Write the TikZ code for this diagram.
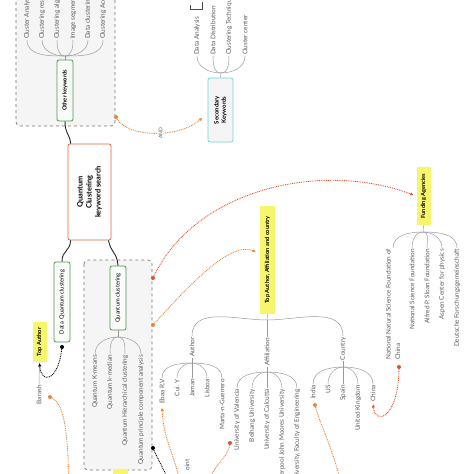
\documentclass[tikz,border=0pt]{standalone}
\usepackage{fontspec}
\setmainfont{Lato}
\usetikzlibrary{arrows.meta}

\definecolor{kgreen}{HTML}{4A9A4A}
\definecolor{kgreenfill}{HTML}{F9FCF9}
\definecolor{kteal}{HTML}{6AD8D0}
\definecolor{kboxfill}{HTML}{F5F5F5}
\definecolor{kcentral}{HTML}{E0673F}
\definecolor{kgroup}{HTML}{777777}
\definecolor{kyellow}{HTML}{F7F56C}
\definecolor{korange}{HTML}{E8843A}
\definecolor{kred}{HTML}{E05030}
\definecolor{ktwig}{HTML}{9A9A9A}
\definecolor{kleaf}{HTML}{595959}

\newcommand{\leaffont}{\fontsize{6.4}{9.5}\selectfont}
\newcommand{\tagfont}{\fontsize{5.7}{6.8}\selectfont}

\tikzset{
	leaf/.style={rotate=90, inner sep=1pt, font=\leaffont, text=kleaf},
	up/.style={leaf, anchor=west},
	down/.style={leaf, anchor=east},
	topic/.style={rotate=90, rounded corners=2pt, line width=0.8pt, inner sep=1pt, font=\tagfont},
	greenbox/.style={topic, draw=kgreen, fill=kgreenfill},
	tag/.style={topic, fill=kyellow, rounded corners=0pt, font=\bfseries\tagfont},
	group/.style={draw=kgroup, fill=kboxfill, dashed, line width=0.7pt, rounded corners=4pt},
	twig/.style={draw=ktwig, line width=0.5pt},
	trunk/.style={draw=black!85, line width=0.9pt},
	relation/.style={line width=0.9pt, dash pattern=on 0.9pt off 0.9pt},
	tip/.style={-{Triangle[length=3pt,width=3pt]}},
	dot/.style={circle, inner sep=0pt, minimum size=4pt}
}

\begin{document}
\begin{tikzpicture}[x=1pt, y=1pt]
	\useasboundingbox (0,0) rectangle (474,-474);

	\draw[group] (16,8) rectangle (115,-126);
	\draw[group] (84,-260) rectangle (152,-470);

	\node(cq) [topic, draw=kcentral, fill=white, minimum width=96pt, minimum height=43pt, align=center, font=\bfseries\fontsize{7.4}{9}\selectfont] at (89.5,-192) {Quantum\\Clustering\\keyword search};

	\node(okw) [greenbox, minimum width=61pt, minimum height=16pt, font=\bfseries\tagfont] at (65,-90.5) {Other keywords};
	\coordinate(okj) at (65,-56);
	\node(ok1) [up] at (27,-40) {Cluster Analysis};
	\node(ok2) [up] at (42,-40) {Clustering research};
	\node(ok3) [up] at (57,-40) {Clustering algorithm};
	\node(ok4) [up] at (73,-40) {Image segmentation};
	\node(ok5) [up] at (88,-40) {Data clustering};
	\node(ok6) [up] at (103,-40) {Clustering Accuracy};

	\node(skw) [topic, draw=kteal, fill=kboxfill, minimum width=64pt, minimum height=25pt, align=center, font=\bfseries\fontsize{6}{7.2}\selectfont] at (220.5,-110) {Secondary\\Keywords};
	\coordinate(skj) at (221,-73);
	\node(sk1) [up] at (197,-56) {Data Analysis};
	\node(sk2) [up] at (213,-56) {Data Distribution};
	\node(sk3) [up] at (229,-56) {Clustering Techniques};
	\node(sk4) [up] at (245,-56) {Cluster center};

	\node(dqc) [greenbox, minimum width=80pt, minimum height=16pt] at (62,-302) {Data\enspace Quantum clustering};
	\node(qc) [greenbox, minimum width=64pt, minimum height=16pt] at (118,-298) {Quantum clustering};
	\coordinate(qcj) at (118,-337);
	\node(qc1) [down] at (95,-354) {Quantum K-means};
	\node(qc2) [down] at (110,-354) {Quantum k-median};
	\node(qc3) [down] at (125,-354) {Quantum Hierarchical clustering};
	\node(qc4) [down] at (141,-354) {Quantum principle component analysis};

	\node(ta) [tag, minimum width=40pt, minimum height=14pt] at (39.5,-342) {Top Author};
	\node(barash) [down] at (39,-384) {Barash};
	\node(tb) [tag, minimum width=20pt, minimum height=15pt] at (120.5,-479) {};

	\node(tac) [tag, minimum width=108pt, minimum height=15pt] at (267.5,-260) {Top Author, Affiliation and country};
	\coordinate(tacj) at (267,-320);
	\node(author) [down] at (192,-336) {Author};
	\node(affil) [down] at (267,-337) {Affiliation};
	\node(country) [down] at (343,-336) {Country};

	\coordinate(auj) at (192,-363);
	\node(ebaa) [down] at (162,-378) {Ebaa R.V};
	\node(cui) [down] at (177,-378) {Cui. Y};
	\node(jaman) [down] at (192,-378) {Jaman};
	\node(lisboa) [down] at (207,-378) {Lisboa};
	\node(marta) [down] at (222,-378) {Marta-n-Guerrero};
	\node(oint) [down] at (187,-458) {oint};

	\coordinate(afj) at (267,-372);
	\node(valencia) [down] at (237,-388) {University of Valencia};
	\node(beihang) [down] at (252,-388) {Beihang University};
	\node(calcutta) [down] at (267,-388) {University of Calcutta};
	\node(liverpool) [down] at (282,-388) {Liverpool John Moores University};
	\node(cairo) [down] at (297,-388) {Cairo University, Faculty of Engineering};

	\coordinate(coj) at (343,-367);
	\node(india) [down] at (313,-384) {India};
	\node(us) [down] at (328,-384) {US};
	\node(spain) [down] at (343,-384) {Spain};
	\node(uk) [down] at (358,-384) {United Kingdom};
	\node(china) [down] at (373,-384) {China};

	\node(fa) [tag, minimum width=58pt, minimum height=14pt] at (423.5,-196) {Funding Agencies};
	\coordinate(faj) at (423,-232);
	\node(nnsfc) [down, align=left] at (393,-248) {National Natural Science Foundation of\\China};
	\node(nsf) [down] at (412,-248) {National Science Foundation};
	\node(sloan) [down] at (427,-248) {Alfred P. Sloan Foundation};
	\node(aspen) [down] at (442,-248) {Aspen Center for physics};
	\node(dfg) [down] at (457,-248) {Deutsche Forschungsgemeinschaft};

	\draw[trunk] (okw.west) .. controls (65,-134) and (70,-134) .. ([xshift=3pt]cq.north east);
	\draw[trunk] ([xshift=3pt]cq.north west) .. controls (70,-252) and (62,-250) .. (dqc.east);
	\draw[trunk] ([xshift=-3pt]cq.south west) .. controls (111,-253) and (117,-252) .. (qc.east);

	\draw[twig] (okw.east) -- (okj);
	\draw[twig] (okj) to[out=180,in=-90] (ok1.west);
	\draw[twig] (okj) to[out=180,in=-90] (ok2.west);
	\draw[twig] (okj) to[out=180,in=-90] (ok3.west);
	\draw[twig] (okj) to[out=0,in=-90] (ok4.west);
	\draw[twig] (okj) to[out=0,in=-90] (ok5.west);
	\draw[twig] (okj) to[out=0,in=-90] (ok6.west);

	\draw[twig] (skw.east) -- (skj);
	\draw[twig] (skj) to[out=180,in=-90] (sk1.west);
	\draw[twig] (skj) to[out=180,in=-90] (sk2.west);
	\draw[twig] (skj) to[out=0,in=-90] (sk3.west);
	\draw[twig] (skj) to[out=0,in=-90] (sk4.west);
	\draw[black!70, line width=0.6pt] (190,-5) |- (202,-9) -- (202,-2);

	\draw[twig] (qc.west) -- (qcj);
	\draw[twig] (qcj) to[out=180,in=90] (qc1.east);
	\draw[twig] (qcj) to[out=180,in=90] (qc2.east);
	\draw[twig] (qcj) to[out=0,in=90] (qc3.east);
	\draw[twig] (qcj) to[out=0,in=90] (qc4.east);

	\draw[twig] (ta.west) -- (barash.east);

	\draw[twig] (tac.west) -- (tacj);
	\draw[twig] (tacj) to[out=180,in=90] (author.east);
	\draw[twig] (tacj) -- (affil.east);
	\draw[twig] (tacj) to[out=0,in=90] (country.east);

	\draw[twig] (author.west) -- (auj);
	\draw[twig] (auj) to[out=180,in=90] (ebaa.east);
	\draw[twig] (auj) to[out=180,in=90] (cui.east);
	\draw[twig] (auj) -- (jaman.east);
	\draw[twig] (auj) to[out=0,in=90] (lisboa.east);
	\draw[twig] (auj) to[out=0,in=90] (marta.east);

	\draw[twig] (affil.west) -- (afj);
	\draw[twig] (afj) to[out=180,in=90] (valencia.east);
	\draw[twig] (afj) to[out=180,in=90] (beihang.east);
	\draw[twig] (afj) -- (calcutta.east);
	\draw[twig] (afj) to[out=0,in=90] (liverpool.east);
	\draw[twig] (afj) to[out=0,in=90] (cairo.east);

	\draw[twig] (country.west) -- (coj);
	\draw[twig] (coj) to[out=180,in=90] (india.east);
	\draw[twig] (coj) to[out=180,in=90] (us.east);
	\draw[twig] (coj) -- (spain.east);
	\draw[twig] (coj) to[out=0,in=90] (uk.east);
	\draw[twig] (coj) to[out=0,in=90] (china.east);

	\draw[twig] (fa.west) -- (faj);
	\draw[twig] (faj) to[out=180,in=90] (nnsfc.east);
	\draw[twig] (faj) to[out=180,in=90] (nsf.east);
	\draw[twig] (faj) to[out=0,in=90] (sloan.east);
	\draw[twig] (faj) to[out=0,in=90] (aspen.east);
	\draw[twig] (faj) to[out=0,in=90] (dfg.east);

	\node(d0) [dot, fill=korange] at (116,-117) {};
	\coordinate(andend) at (202,-118);
	\draw[relation, korange, tip] (d0) .. controls (128,-138) and (180,-138) .. (andend) node[pos=0.55, rotate=90, fill=white, inner sep=0.6pt, font=\fontsize{5}{6}\selectfont, text=kleaf] (andlbl) {AND};

	\node(d1) [dot, fill=black] at (62,-347) {};
	\draw[relation, black, tip, shorten >=1pt] (d1) .. controls (58,-382) and (41,-384) .. (ta.west);

	\node(d2) [dot, fill=korange] at (50,-397) {};
	\coordinate(off1) at (69,-490);
	\draw[relation, korange] (d2) .. controls (66,-405) and (68,-440) .. (off1);

	\node(d3) [dot, fill=kred] at (153,-278) {};
	\draw[relation, kred, tip, shorten >=3pt] (d3) .. controls (195,-190) and (320,-160) .. (fa.north);

	\node(d4) [dot, fill=korange] at (153,-325) {};
	\draw[relation, korange, tip] (d4) .. controls (185,-290) and (230,-240) .. ([shift={(-4,8)}]tac.north);

	\node(d5) [dot, fill=black] at (153,-448) {};
	\coordinate(off2) at (172,-490);
	\draw[relation, black] (d5) .. controls (158,-460) and (165,-470) .. (off2);

	\coordinate(off3) at (181,-490);
	\draw[relation, korange, tip, shorten >=3pt] (off3) .. controls (176,-455) and (163,-440) .. (ebaa.west);

	\node(d6) [dot, fill=kred] at (230,-443) {};
	\coordinate(off4) at (205,-490);
	\draw[relation, korange] (d6) .. controls (228,-458) and (212,-465) .. (off4);

	\node(d7) [dot, fill=korange] at (315,-405) {};
	\coordinate(off5) at (342,-490);
	\draw[relation, korange] (d7) .. controls (322,-430) and (336,-455) .. (off5);

	\node(d8) [dot, fill=kred] at (399,-367) {};
	\draw[relation, kred, tip, shorten >=2pt] (d8) .. controls (398,-420) and (375,-425) .. (china.west);

\end{tikzpicture}
\end{document}
